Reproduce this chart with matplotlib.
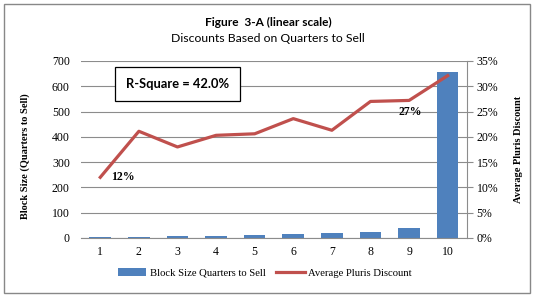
import numpy as np
import matplotlib.pyplot as plt
from matplotlib.patches import Rectangle, Patch
from matplotlib.lines import Line2D
from matplotlib.ticker import PercentFormatter

# --- data ---
quarters = [1, 2, 3, 4, 5, 6, 7, 8, 9, 10]
block_size = [4, 4, 8, 8, 12, 17, 20, 24, 40, 657]
avg_discount = [12.0, 21.1, 18.0, 20.3, 20.6, 23.6, 21.3, 27.0, 27.2, 32.1]

blue = '#4F81BD'
red = '#C0504D'
grid_gray = '#8C8C8C'
serif = 'Liberation Serif'
sans = 'Lato'

fig = plt.figure(figsize=(5.37, 2.96), dpi=100)
ax = fig.add_axes([0.1508, 0.196, 0.7188, 0.598])
ax2 = ax.twinx()

ax.bar(quarters, block_size, width=0.56, color=blue, zorder=2)
ax2.plot(quarters, avg_discount, color=red, linewidth=2.3, zorder=3)

ax.set_xlim(0.5, 10.5)
ax.set_ylim(0, 700)
ax.set_yticks(np.arange(0, 701, 100))
ax.set_xticks(quarters)
ax2.set_ylim(0, 35)
ax2.set_yticks(np.arange(0, 36, 5))
ax2.yaxis.set_major_formatter(PercentFormatter(decimals=0))

ax.grid(axis='y', color=grid_gray, linewidth=0.8, zorder=0)
for s in ['top', 'left', 'right']:
    ax.spines[s].set_visible(False)
    ax2.spines[s].set_visible(False)
ax.spines['bottom'].set_color(grid_gray)
ax2.spines['bottom'].set_visible(False)
ax2.spines['right'].set_visible(True)
ax2.spines['right'].set_color(grid_gray)

ax.tick_params(axis='y', length=0, pad=8, labelsize=8.5)
ax.tick_params(axis='x', length=0, pad=6, labelsize=8.5)
ax2.tick_params(axis='y', length=4, color=grid_gray, direction='out', pad=3, labelsize=8.5)
for lbl in ax.get_xticklabels() + ax.get_yticklabels() + ax2.get_yticklabels():
    lbl.set_fontfamily(serif)

ax.set_ylabel('Block Size (Quarters to Sell)', fontfamily=serif, fontweight='bold',
              fontsize=7.5)
ax.yaxis.set_label_coords(-0.132, 0.46)
ax2.set_ylabel('Average Pluris Discount', fontfamily=serif, fontweight='bold',
               fontsize=7.5, rotation=90)
ax2.yaxis.set_label_coords(1.121, 0.5)

# data labels
ax2.annotate('12%', (quarters[0], avg_discount[0]), xytext=(16, 0), textcoords='offset points',
             ha='center', va='center', fontfamily=serif, fontweight='bold', fontsize=8.5)
ax2.annotate('27%', (quarters[8], avg_discount[8]), xytext=(1, -8), textcoords='offset points',
             ha='center', va='center', fontfamily=serif, fontweight='bold', fontsize=8.5)

# R-square box
ax.text(1.66, 608, 'R-Square = 42.0%', fontfamily=sans, fontweight='bold', fontsize=9.3,
        va='center', ha='left',
        bbox=dict(boxstyle='square,pad=0.85', facecolor='white', edgecolor='black', linewidth=0.9),
        zorder=5)

fig.text(0.499, 0.925, 'Figure  3-A (linear scale)', ha='center', va='center',
         fontfamily=sans, fontweight='bold', fontsize=8.6)
fig.text(0.499, 0.870, 'Discounts Based on Quarters to Sell', ha='center', va='center',
         fontfamily=sans, fontsize=8.8)

handles = [Patch(facecolor=blue, edgecolor='none'),
           Line2D([0], [0], color=red, linewidth=2.3)]
fig.legend(handles, ['Block Size Quarters to Sell', 'Average Pluris Discount'],
           loc='center', bbox_to_anchor=(0.493, 0.078), ncol=2, frameon=False,
           prop={'family': serif, 'size': 7.7}, handlelength=2.7, handletextpad=0.3,
           columnspacing=1.0)

fig.patches.append(Rectangle((4 / 537, 3 / 296), 526 / 537, 289 / 296, transform=fig.transFigure,
                             fill=False, edgecolor='#888888', linewidth=1.0))

fig.savefig('out.png', dpi=100)
